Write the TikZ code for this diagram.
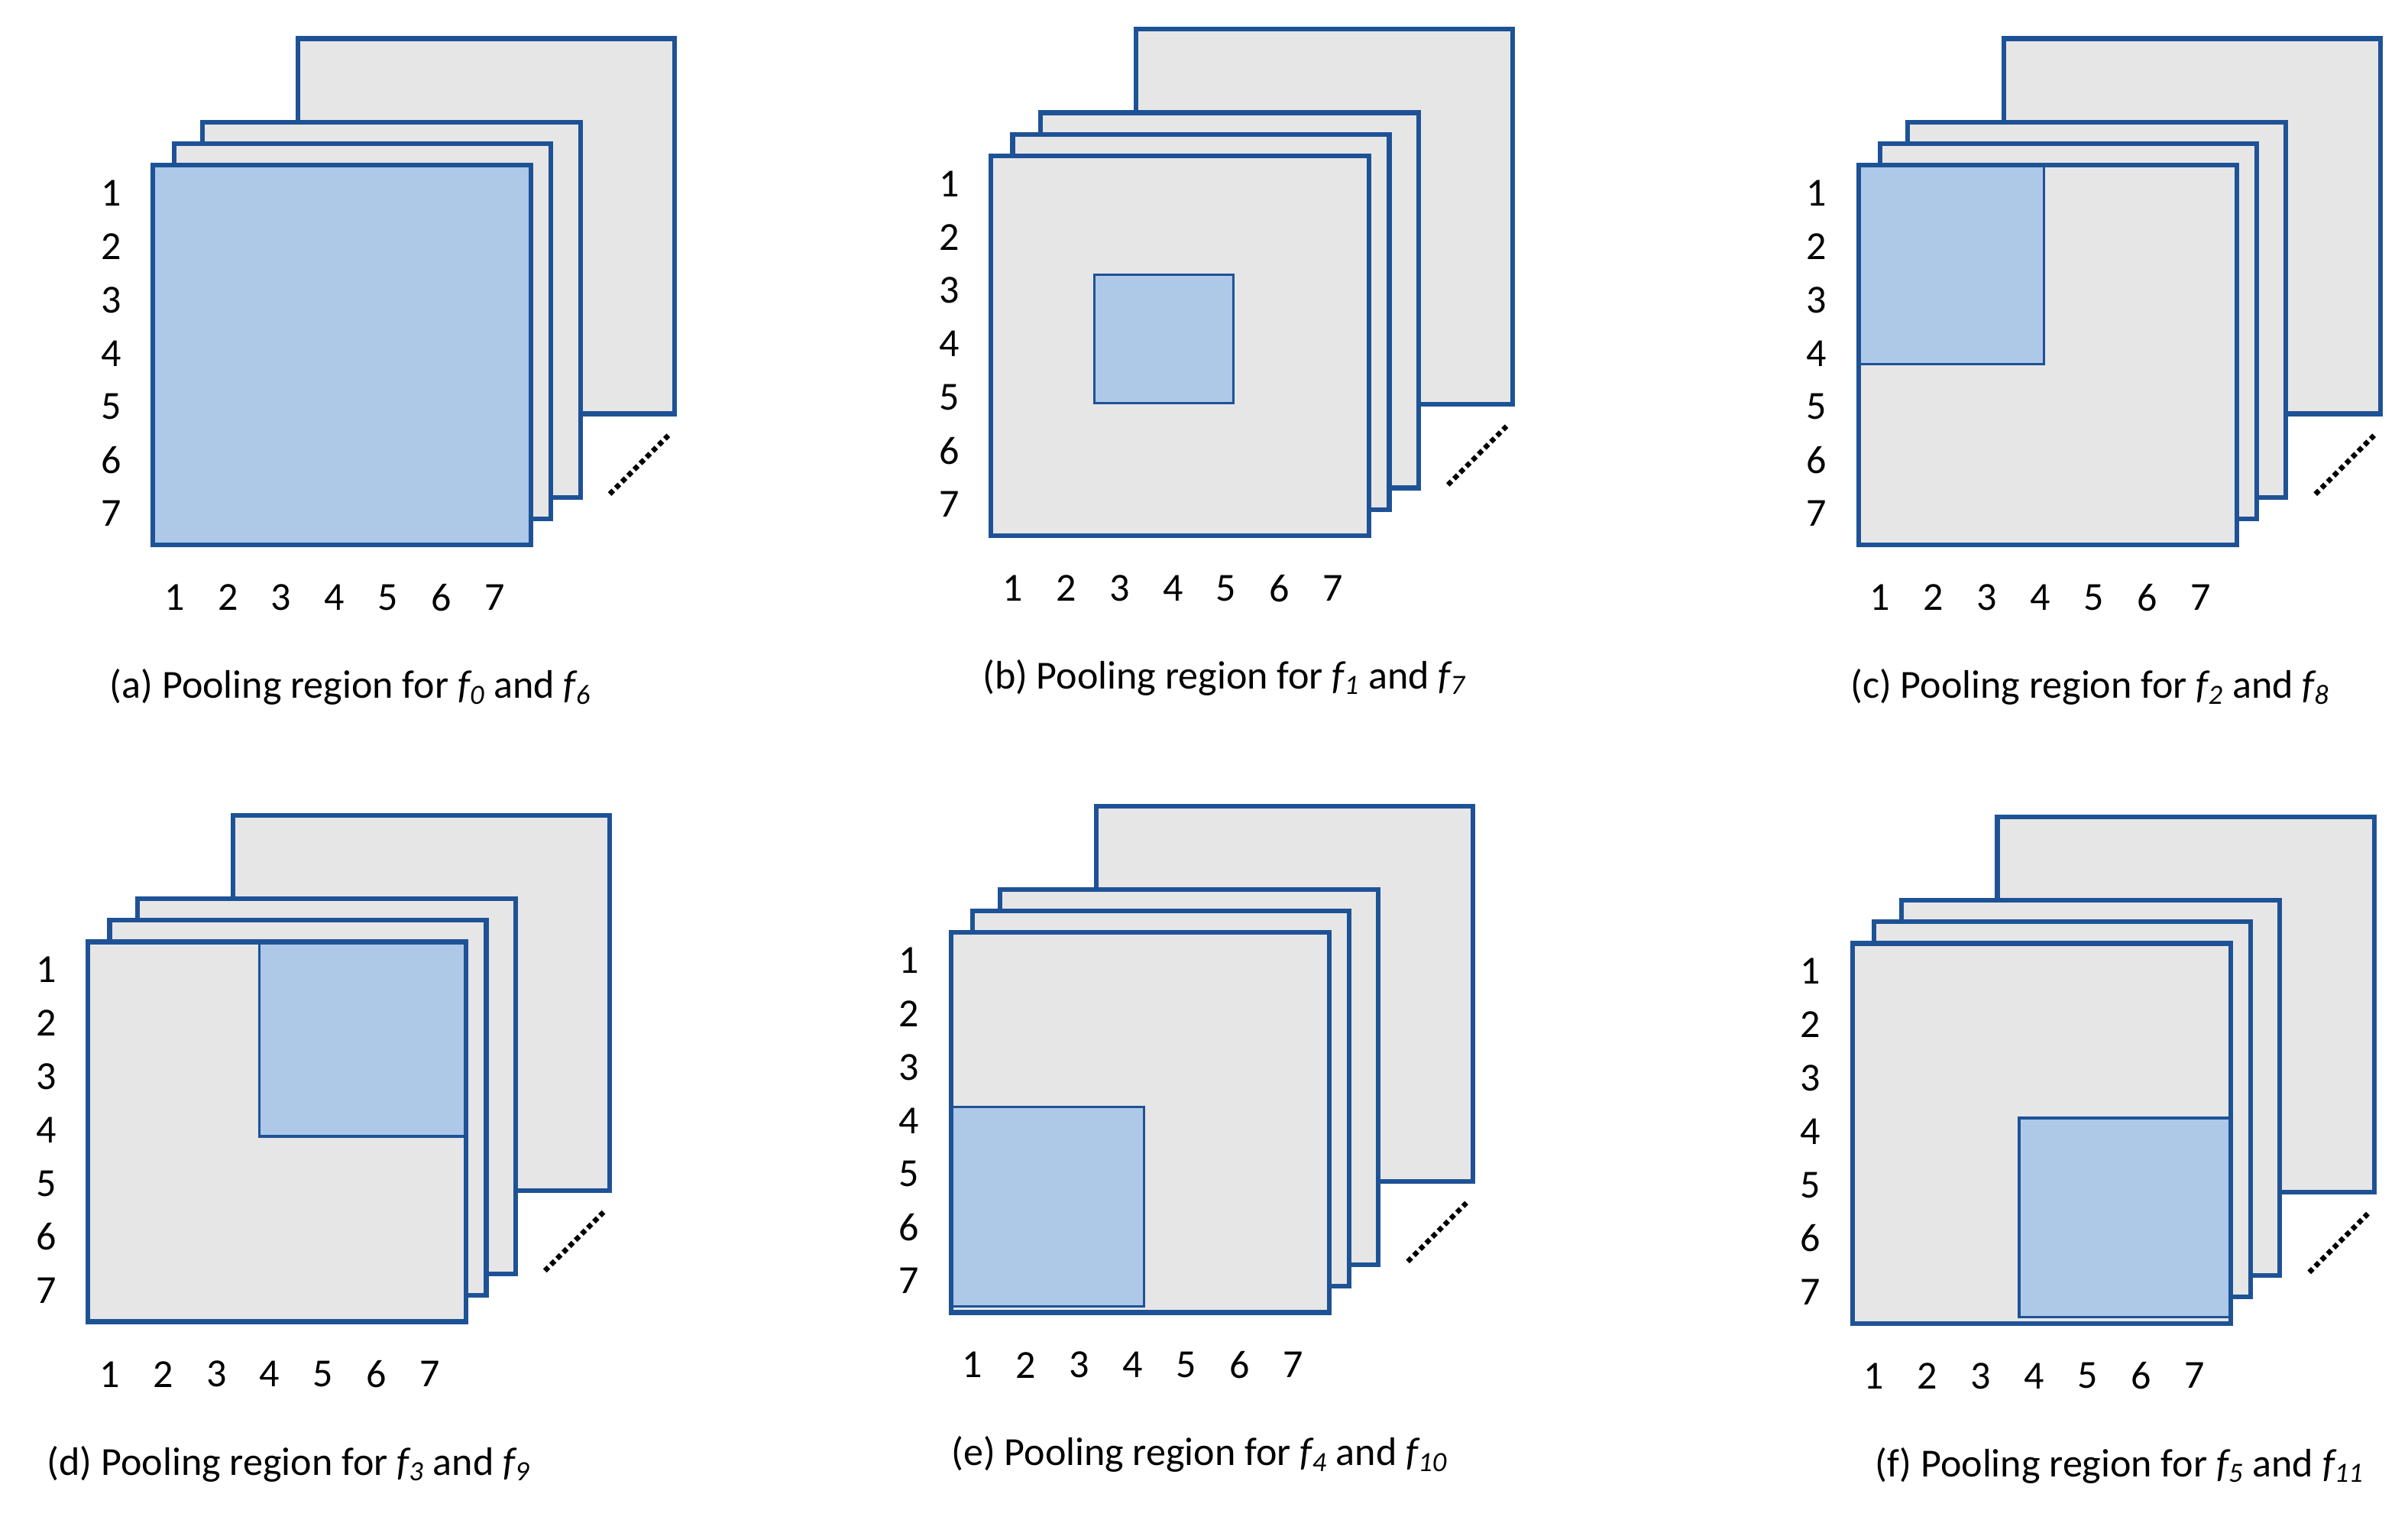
\documentclass[tikz,border=0pt]{standalone}
\usepackage{fontspec}
\setmainfont{Carlito}
\definecolor{fb}{RGB}{30,82,150}
\definecolor{fg}{RGB}{230,230,230}
\definecolor{lb}{RGB}{174,200,232}
\tikzset{frame/.style={draw=fb,line width=2.6pt,fill=fg},
hl/.style={draw=fb,line width=1.4pt,fill=lb},
lab/.style={font=\fontsize{22}{26}\selectfont,inner sep=0pt},
captext/.style={font=\fontsize{22}{26}\selectfont,inner sep=0pt}}
\newcommand\fsub[1]{{\itshape f\textsubscript{#1}}}
\newcommand\poolpanel[9]{%
\begin{scope}[shift={(#1,#2)}]
\draw[frame] (94,-82) rectangle (338,161);
\draw[frame] (32,-28) rectangle (277,215);
\draw[frame] (14,-14) rectangle (258,229);
\draw[frame] (0,0) rectangle (245,246);
\draw[hl] (#3,#4) rectangle (#5,#6);
\draw[frame,fill=none] (0,0) rectangle (245,246);
\draw[line width=2.8pt,dotted] (296,213) -- (334,175);
\foreach \i in {1,...,7}{
\node[lab] (r#9\i) at (-27,{18+34.6*(\i-1)}) {\i};
\node[lab] (c#9\i) at ({14+34.6*(\i-1)},280) {\i};}
\node[captext] (cap#9) at (#8,338) {#7};
\end{scope}}
\begin{document}
\begin{tikzpicture}[x=0.03cm,y=-0.03cm]
\useasboundingbox (0,0) rectangle (1560,984);
\poolpanel{99}{107}{0}{0}{245}{246}{(a) Pooling region for \fsub{0} and \fsub{6}}{128}{a}
\poolpanel{642}{101}{67}{77}{157}{160}{(b) Pooling region for \fsub{1} and \fsub{7}}{151}{b}
\poolpanel{1204}{107}{0}{0}{120}{129}{(c) Pooling region for \fsub{2} and \fsub{8}}{150}{c}
\poolpanel{57}{610}{111}{0}{245}{126}{(d) Pooling region for \fsub{3} and \fsub{9}}{130}{d}
\poolpanel{616}{604}{0}{113}{125}{242}{(e) Pooling region for \fsub{4} and \fsub{10}}{161}{e}
\poolpanel{1200}{611}{108}{113}{245}{242}{(f) Pooling region for \fsub{5} and \fsub{11}}{173}{f}
\end{tikzpicture}
\end{document}
